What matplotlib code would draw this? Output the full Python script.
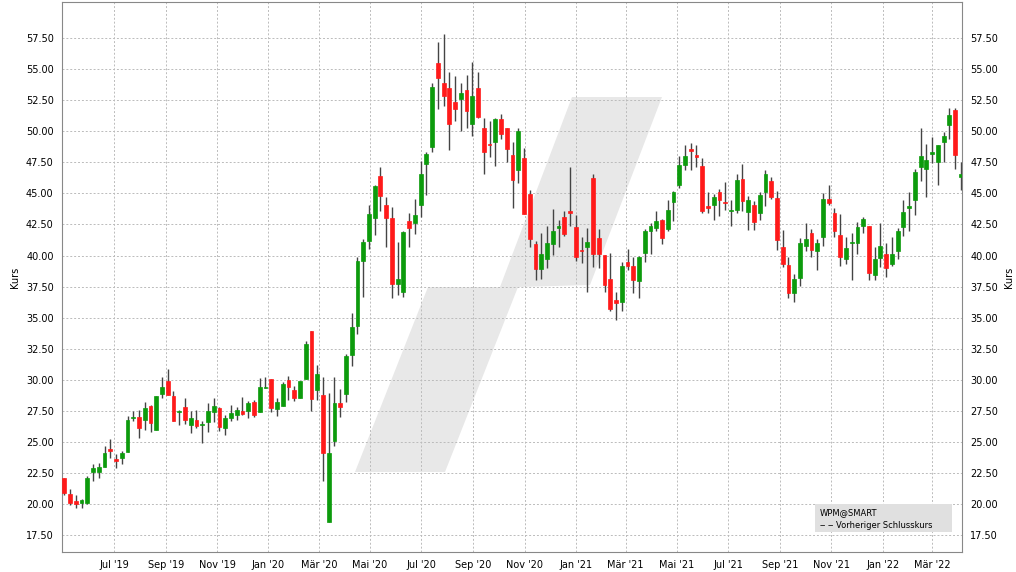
import numpy as np
import pandas as pd
import matplotlib
matplotlib.use("Agg")
import matplotlib.pyplot as plt
from matplotlib.patches import Polygon, Rectangle

# Wochenkerzen WPM (Mai 2019 - Apr 2022)
opens = [22.1, 20.8, 20.25, 20.1, 20.1, 22.55, 22.55, 22.95, 24.4, 23.6,
         23.75, 24.2, 26.9, 27.0, 26.8, 27.9, 26.0, 28.9, 29.9, 28.7,
         27.4, 27.8, 26.35, 26.8, 26.35, 26.6, 27.4, 27.7, 26.1, 26.95,
         27.2, 27.5, 27.5, 28.25, 27.4, 29.35, 30.1, 27.65, 27.9, 29.95,
         29.2, 28.55, 30.1, 33.9, 29.15, 28.8, 18.6, 25.1, 28.1, 28.9,
         32.0, 34.3, 39.55, 41.2, 43.0, 46.4, 44.1, 43.0, 37.75, 37.1,
         42.8, 42.6, 44.05, 47.4, 48.7, 55.5, 53.9, 53.45, 52.35, 52.6,
         53.3, 50.55, 53.45, 50.25, 48.95, 49.15, 50.95, 50.3, 48.1, 46.9,
         47.85, 44.95, 40.9, 38.9, 39.7, 40.9, 42.25, 43.1, 43.55, 42.3,
         40.45, 40.7, 46.25, 41.45, 40.05, 38.1, 36.45, 36.3, 39.45, 39.2,
         37.95, 40.2, 41.95, 42.2, 42.85, 42.1, 44.3, 45.7, 47.25, 48.6,
         48.1, 47.2, 43.95, 44.1, 45.15, 44.3, 43.55, 43.7, 46.15, 43.5,
         44.1, 43.4, 45.1, 46.0, 44.6, 40.7, 39.25, 36.95, 38.2, 40.75,
         41.8, 40.4, 41.5, 44.55, 43.45, 41.65, 39.75, 41.0, 41.0, 42.35,
         42.35, 38.45, 39.8, 40.15, 39.35, 40.4, 42.3, 43.85, 44.5, 47.1,
         46.95, 48.2, 47.5, 49.1, 50.5, 51.7, 46.3]
closes = [20.9, 20.1, 20.05, 20.3, 22.1, 22.9, 23.0, 24.1, 24.25, 23.45,
          24.1, 26.8, 27.0, 26.1, 27.7, 26.5, 28.7, 29.4, 28.8, 26.7,
          27.5, 26.8, 26.95, 26.25, 26.45, 27.5, 27.9, 26.2, 26.9, 27.3,
          27.6, 27.25, 28.15, 27.2, 29.45, 29.45, 27.75, 28.2, 29.7, 29.45,
          28.55, 29.9, 32.9, 28.45, 30.5, 24.1, 24.1, 28.1, 27.8, 31.95,
          34.25, 39.55, 41.1, 43.35, 45.6, 44.8, 43.0, 37.75, 38.1, 41.9,
          42.25, 43.25, 46.6, 48.15, 53.6, 54.3, 52.85, 50.55, 51.8, 53.05,
          51.65, 52.8, 51.15, 48.3, 48.9, 50.95, 49.8, 48.55, 46.05, 50.0,
          43.35, 41.3, 38.95, 40.1, 41.0, 42.0, 42.4, 41.7, 43.4, 39.85,
          40.35, 41.1, 40.15, 40.15, 37.65, 35.7, 36.2, 39.2, 39.2, 38.05,
          39.85, 42.0, 42.35, 42.75, 41.4, 43.7, 45.15, 47.25, 48.0, 48.4,
          47.95, 43.6, 43.85, 44.75, 44.5, 44.2, 43.7, 46.1, 44.35, 44.45,
          42.7, 44.9, 46.55, 44.75, 41.25, 39.3, 37.0, 38.15, 41.0, 41.3,
          40.45, 41.0, 44.55, 44.2, 42.0, 39.9, 40.6, 41.1, 42.3, 42.95,
          38.6, 39.7, 40.8, 39.0, 40.1, 41.95, 43.5, 43.95, 46.7, 48.05,
          47.7, 48.3, 48.9, 49.65, 51.3, 48.1, 46.6]
highs = [22.1, 21.2, 20.7, 20.4, 22.3, 23.2, 23.3, 24.65, 25.25, 24.05,
         24.3, 27.1, 27.5, 27.6, 28.2, 28.0, 28.7, 30.2, 30.9, 29.1,
         27.6, 28.5, 27.5, 27.6, 26.65, 28.1, 28.5, 27.8, 27.2, 28.0,
         27.85, 28.6, 28.3, 28.35, 30.15, 30.2, 30.1, 28.55, 29.8, 30.3,
         29.5, 29.9, 33.1, 33.9, 31.2, 30.2, 28.95, 30.2, 29.3, 32.1,
         35.4, 39.9, 41.3, 44.05, 45.7, 47.1, 44.75, 43.9, 41.1, 42.0,
         43.45, 44.55, 47.6, 48.3, 53.9, 57.15, 57.8, 54.75, 54.45, 53.85,
         54.5, 55.6, 54.8, 51.05, 50.8, 51.05, 51.4, 50.3, 49.15, 50.3,
         48.65, 45.3, 41.2, 41.8, 42.4, 43.75, 42.85, 43.6, 47.1, 43.25,
         41.5, 42.2, 46.6, 42.1, 40.05, 40.2, 37.05, 39.5, 40.5, 39.85,
         40.0, 42.1, 42.65, 43.6, 42.95, 44.45, 45.2, 48.05, 48.9, 49.05,
         48.9, 47.85, 45.15, 44.95, 45.35, 45.95, 44.45, 46.55, 47.4, 44.8,
         44.4, 45.15, 46.9, 46.3, 45.2, 42.05, 39.9, 38.5, 41.45, 42.6,
         42.1, 41.35, 45.05, 45.65, 43.85, 43.35, 41.5, 41.8, 42.7, 43.1,
         42.4, 40.7, 42.65, 41.05, 41.5, 42.2, 44.5, 45.1, 46.95, 50.3,
         48.95, 49.55, 48.9, 49.95, 51.85, 51.9, 47.5]
lows = [20.7, 19.9, 19.7, 19.7, 20.0, 21.9, 22.1, 22.95, 23.75, 22.9,
        23.2, 24.2, 26.7, 25.3, 26.0, 25.8, 26.0, 28.5, 28.8, 26.7,
        26.4, 26.45, 25.75, 26.1, 24.9, 25.8, 26.6, 25.85, 25.6, 26.7,
        26.75, 27.2, 26.9, 27.0, 27.4, 29.35, 27.4, 27.1, 27.9, 28.35,
        28.3, 28.55, 30.1, 27.5, 28.4, 21.9, 18.55, 24.7, 27.0, 28.2,
        31.15, 33.7, 36.7, 40.55, 41.65, 43.6, 40.7, 36.6, 36.85, 36.7,
        40.7, 41.75, 43.1, 44.85, 48.3, 51.8, 52.05, 48.5, 50.8, 50.0,
        50.3, 49.6, 51.05, 46.6, 47.9, 47.2, 49.35, 47.55, 43.8, 45.8,
        43.35, 40.65, 38.0, 38.15, 39.0, 40.05, 40.7, 41.55, 42.4, 39.6,
        39.4, 37.1, 39.1, 39.0, 37.1, 35.55, 34.8, 35.55, 38.8, 36.95,
        36.6, 39.5, 40.1, 42.0, 40.9, 42.0, 42.75, 45.45, 46.85, 46.9,
        47.1, 43.45, 43.45, 42.9, 43.2, 43.7, 42.35, 43.4, 43.55, 42.05,
        42.05, 42.9, 44.0, 44.55, 40.45, 39.05, 36.6, 36.3, 37.55, 40.4,
        39.9, 38.8, 40.8, 44.05, 41.5, 39.2, 39.3, 38.05, 40.1, 41.8,
        38.0, 38.0, 39.1, 38.25, 39.2, 39.7, 41.55, 41.95, 43.3, 46.0,
        44.7, 47.45, 45.65, 47.5, 49.35, 46.95, 45.3]

tick_labels = ["Jul '19", "Sep '19", "Nov '19", "Jan '20", "Mär '20", "Mai '20",
               "Jul '20", "Sep '20", "Nov '20", "Jan '21", "Mär '21", "Mai '21",
               "Jul '21", "Sep '21", "Nov '21", "Jan '22", "Mär '22"]
tick_dates = pd.date_range("2019-07-01", "2022-03-01", freq="2MS")

start = pd.Timestamp("2019-05-03")
wk = 5.746 / 5.88  # Kerzenabstand relativ zur Kalenderwoche
tick_pos = [(d - start).days / 7 / wk for d in tick_dates]

green = "#0c9b0c"
red = "#ff1a1a"

fig = plt.figure(figsize=(10.16, 5.72), dpi=100)
ax = fig.add_axes([62 / 1016, 20 / 572, 900 / 1016, 550 / 572])

# Wasserzeichen (hinter den Kerzen)
px = [(355, 472), (428, 287), (500, 287), (572, 97), (662, 97), (590, 285),
      (518, 287), (445, 472)]
ax.add_patch(Polygon([(x / 1016, 1 - y / 572) for x, y in px], closed=True,
                     transform=fig.transFigure, facecolor="#e8e8e8",
                     edgecolor="none", zorder=0.5))

for i in range(len(opens)):
    o, c, h, l = opens[i], closes[i], highs[i], lows[i]
    col = green if c >= o else red
    ax.vlines(i, l, h, color="#444444", lw=1, zorder=2)
    ax.add_patch(Rectangle((i - 0.33, min(o, c)), 0.66, max(abs(c - o), 0.08),
                           facecolor=col, edgecolor=col, lw=0.5, zorder=3))

ax.set_xlim(-0.4, 156.2)
ax.set_ylim(16.15, 60.4)
yt = np.arange(17.5, 57.6, 2.5)
ax.set_yticks(yt)
ax.set_yticklabels([f"{v:.2f}" for v in yt], fontsize=7)
ax.set_xticks(tick_pos)
ax.set_xticklabels(tick_labels, fontsize=7)
ax.tick_params(length=0, pad=6)
ax.grid(True, color="#bbbbbb", ls=(0, (2, 2)), lw=0.7, zorder=1)
ax.set_axisbelow(True)
for s in ax.spines.values():
    s.set_color("#888888")
    s.set_linewidth(0.8)
ax.set_ylabel("Kurs", fontsize=7)

ax2 = ax.twinx()
ax2.set_ylim(ax.get_ylim())
ax2.set_yticks(yt)
ax2.set_yticklabels([f"{v:.2f}" for v in yt], fontsize=7)
ax2.tick_params(length=0, pad=6)
ax2.set_ylabel("Kurs", fontsize=7)
for s in ax2.spines.values():
    s.set_visible(False)

# Legendenbox
ax2.add_patch(Rectangle((815 / 1016, 1 - 532 / 572), 137 / 1016, 28 / 572,
                        transform=fig.transFigure, facecolor="#e0e0e0",
                        edgecolor="none", zorder=5))
fig.text(820 / 1016, 1 - 513 / 572, "WPM@SMART", fontsize=6, va="center", zorder=6)
fig.text(820 / 1016, 1 - 525 / 572, "‒ ‒ Vorheriger Schlusskurs", fontsize=6,
         va="center", zorder=6)

fig.savefig("out.png", dpi=100)
